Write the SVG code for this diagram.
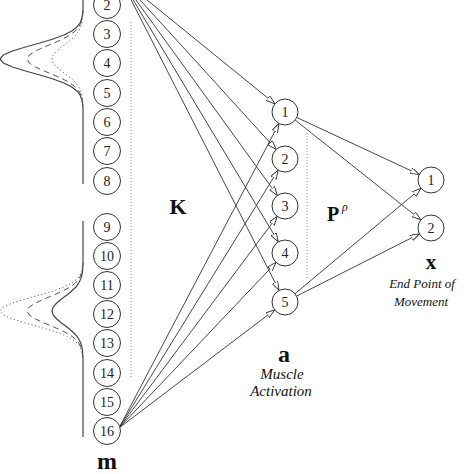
<svg xmlns="http://www.w3.org/2000/svg" width="474" height="474" viewBox="0 0 474 474">
<style>
.n circle{fill:#fff;stroke:#333;stroke-width:1}
.n text{font-family:"Liberation Serif",serif;font-size:14px;text-anchor:middle;fill:#222}
.c line{stroke:#333;stroke-width:0.9;fill:none}
.lbl{font-family:"Liberation Serif",serif;text-anchor:middle;fill:#111}
.b{font-weight:bold}
.i{font-style:italic}
.solid{fill:none;stroke:#444;stroke-width:1.2}
.dash{fill:none;stroke:#555;stroke-width:1;stroke-dasharray:6 4}
.dot{fill:none;stroke:#666;stroke-width:1;stroke-dasharray:1.2 2.5}
.vdot{stroke:#888;stroke-width:1;stroke-dasharray:1 2}
</style>
<defs>
<marker id="ah" markerUnits="userSpaceOnUse" markerWidth="11" markerHeight="8" refX="9" refY="3" orient="auto">
<path d="M0,0 L9,3 L0,6 Z" fill="#fff" stroke="#333" stroke-width="0.9"/>
</marker>
</defs>
<rect width="474" height="474" fill="#fff"/>

<!-- upper bump -->
<path class="solid" d="M83,0 L83,11 L82.4,15 L81.6,19 L80,23 L76.9,27 L71.8,31 L63.9,35 L53.1,39 L39.8,43 L25.5,47 L12.5,51 L3.3,55 L0,59 L3.3,63 L12.5,67 L25.5,71 L39.8,75 L53.1,79 L63.9,83 L71.8,87 L76.9,91 L80,95 L81.6,99 L82.4,103 L83,107 L83,184"/>
<path class="dash" d="M83,11 L82.6,15 L82.1,19 L80.9,23 L78.9,27 L75.4,31 L70.1,35 L62.8,39 L53.9,43 L44.2,47 L35.5,51 L29.2,55 L27,59 L29.2,63 L35.5,67 L44.2,71 L53.9,75 L62.8,79 L70.1,83 L75.4,87 L78.9,91 L80.9,95 L82.1,99 L82.6,103 L83,107"/>
<path class="dot" d="M83,11 L82.8,15 L82.5,19 L81.9,23 L80.7,27 L78.8,31 L75.9,35 L71.8,39 L66.9,43 L61.5,47 L56.7,51 L53.2,55 L52,59 L53.2,63 L56.7,67 L61.5,71 L66.9,75 L71.8,79 L75.9,83 L78.8,87 L80.7,91 L81.9,95 L82.5,99 L82.8,103 L83,107"/>

<!-- lower bump -->
<path class="solid" d="M83,221 L83,263 L82.8,267 L82.5,271 L81.9,275 L80.7,279 L78.8,283 L75.9,287 L71.8,291 L66.9,295 L61.5,299 L56.7,303 L53.2,307 L52,311 L53.2,315 L56.7,319 L61.5,323 L66.9,327 L71.8,331 L75.9,335 L78.8,339 L80.7,343 L81.9,347 L82.5,351 L82.8,355 L83,359 L83,437"/>
<path class="dash" d="M83,263 L82.6,267 L82.1,271 L80.9,275 L78.9,279 L75.4,283 L70.1,287 L62.8,291 L53.9,295 L44.2,299 L35.5,303 L29.2,307 L27,311 L29.2,315 L35.5,319 L44.2,323 L53.9,327 L62.8,331 L70.1,335 L75.4,339 L78.9,343 L80.9,347 L82.1,351 L82.6,355 L83,359"/>
<path class="dot" d="M83,263 L82.4,267 L81.6,271 L80,275 L76.9,279 L71.8,283 L63.9,287 L53.1,291 L39.8,295 L25.5,299 L12.5,303 L3.3,307 L0,311 L3.3,315 L12.5,319 L25.5,323 L39.8,327 L53.1,331 L63.9,335 L71.8,339 L76.9,343 L80,347 L81.6,351 L82.4,355 L83,359"/>

<line class="vdot" x1="131" y1="22" x2="131" y2="378"/>
<line class="vdot" x1="307" y1="133" x2="307" y2="278"/>

<g id="connectors" class="c">
<line x1="120" y1="-22" x2="274.9" y2="103.8" marker-end="url(#ah)"/>
<line x1="120" y1="-22" x2="276.2" y2="149.4" marker-end="url(#ah)"/>
<line x1="120" y1="-22" x2="277.4" y2="195.5" marker-end="url(#ah)"/>
<line x1="120" y1="-22" x2="278.3" y2="241.8" marker-end="url(#ah)"/>
<line x1="120" y1="-22" x2="279.1" y2="290.4" marker-end="url(#ah)"/>
<line x1="119" y1="428" x2="279.0" y2="123.5" marker-end="url(#ah)"/>
<line x1="119" y1="428" x2="278.2" y2="170.1" marker-end="url(#ah)"/>
<line x1="119" y1="428" x2="277.2" y2="216.4" marker-end="url(#ah)"/>
<line x1="119" y1="428" x2="276.1" y2="262.4" marker-end="url(#ah)"/>
<line x1="119" y1="428" x2="274.6" y2="309.9" marker-end="url(#ah)"/>
<line x1="296.8" y1="117.5" x2="419.2" y2="174.5" marker-end="url(#ah)"/>
<line x1="295.2" y1="120.1" x2="420.8" y2="219.9" marker-end="url(#ah)"/>
<line x1="295.0" y1="293.7" x2="421.0" y2="188.3" marker-end="url(#ah)"/>
<line x1="296.6" y1="296.1" x2="419.4" y2="233.9" marker-end="url(#ah)"/>
</g>

<g id="m2" class="n"><circle cx="107" cy="5" r="13.5"/><text x="107" y="10">2</text></g>
<g id="m3" class="n"><circle cx="107" cy="34" r="13.5"/><text x="107" y="39">3</text></g>
<g id="m4" class="n"><circle cx="107" cy="63" r="13.5"/><text x="107" y="68">4</text></g>
<g id="m5" class="n"><circle cx="107" cy="93" r="13.5"/><text x="107" y="98">5</text></g>
<g id="m6" class="n"><circle cx="107" cy="122" r="13.5"/><text x="107" y="127">6</text></g>
<g id="m7" class="n"><circle cx="107" cy="151" r="13.5"/><text x="107" y="156">7</text></g>
<g id="m8" class="n"><circle cx="107" cy="181" r="13.5"/><text x="107" y="186">8</text></g>
<g id="m9" class="n"><circle cx="107" cy="227" r="13.5"/><text x="107" y="232">9</text></g>
<g id="m10" class="n"><circle cx="107" cy="256" r="13.5"/><text x="107" y="261">10</text></g>
<g id="m11" class="n"><circle cx="107" cy="285" r="13.5"/><text x="107" y="290">11</text></g>
<g id="m12" class="n"><circle cx="107" cy="314" r="13.5"/><text x="107" y="319">12</text></g>
<g id="m13" class="n"><circle cx="107" cy="343" r="13.5"/><text x="107" y="348">13</text></g>
<g id="m14" class="n"><circle cx="107" cy="373" r="13.5"/><text x="107" y="378">14</text></g>
<g id="m15" class="n"><circle cx="107" cy="402" r="13.5"/><text x="107" y="407">15</text></g>
<g id="m16" class="n"><circle cx="107" cy="431" r="13.5"/><text x="107" y="436">16</text></g>

<g id="a1" class="n"><circle cx="285" cy="112" r="13"/><text x="285" y="117">1</text></g>
<g id="a2" class="n"><circle cx="285" cy="159" r="13"/><text x="285" y="164">2</text></g>
<g id="a3" class="n"><circle cx="285" cy="206" r="13"/><text x="285" y="211">3</text></g>
<g id="a4" class="n"><circle cx="285" cy="253" r="13"/><text x="285" y="258">4</text></g>
<g id="a5" class="n"><circle cx="285" cy="302" r="13"/><text x="285" y="307">5</text></g>

<g id="x1" class="n"><circle cx="431" cy="180" r="13"/><text x="431" y="185">1</text></g>
<g id="x2" class="n"><circle cx="431" cy="228" r="13"/><text x="431" y="233">2</text></g>

<g id="labels">
<text class="lbl b" x="178" y="214" font-size="22">K</text>
<text class="lbl b" x="333" y="221" font-size="20">P</text>
<text class="lbl i" x="345" y="211" font-size="12">ρ</text>
<text class="lbl b" x="431" y="269" font-size="21">x</text>
<text class="lbl i" x="422" y="288" font-size="13">End Point of</text>
<text class="lbl i" x="421" y="306" font-size="13">Movement</text>
<text class="lbl b" x="284" y="362" font-size="24">a</text>
<text class="lbl i" x="282" y="379" font-size="15">Muscle</text>
<text class="lbl i" x="281" y="396" font-size="15">Activation</text>
<text class="lbl b" x="107" y="469" font-size="24">m</text>
</g>
</svg>
